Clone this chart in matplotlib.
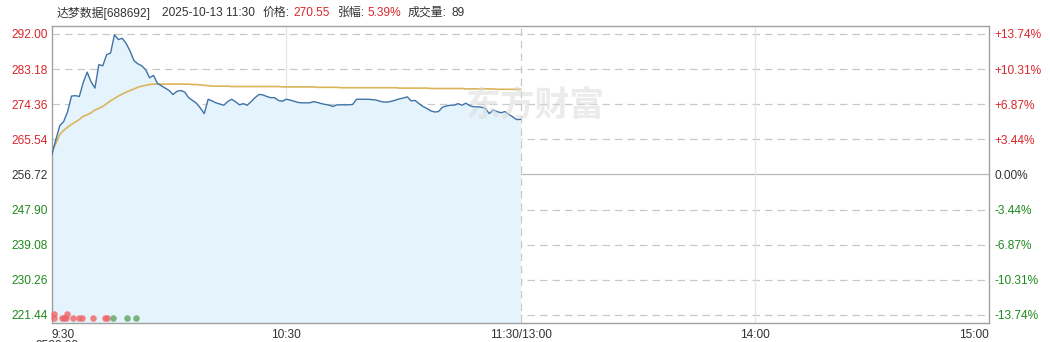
import numpy as np
import matplotlib
matplotlib.use('Agg')
import matplotlib.pyplot as plt

plt.rcParams['font.family'] = ['Liberation Sans', 'Noto Sans CJK SC', 'DejaVu Sans']

# 数据：9:30 起每分钟的价格和均价
price = [261.8, 265.5, 269.0, 270.0, 272.5, 276.4, 276.5, 276.3, 279.8, 282.4,
         280.0, 278.4, 284.3, 284.0, 286.8, 287.2, 291.8, 290.6, 290.9, 289.6,
         287.7, 285.3, 284.5, 284.0, 283.0, 281.0, 281.6, 279.6, 279.0, 278.4,
         277.8, 276.8, 277.6, 277.8, 277.4, 276.0, 275.3, 274.6, 273.4, 272.0,
         275.6, 275.2, 274.7, 274.4, 274.1, 275.0, 275.6, 275.0, 274.2, 274.5,
         274.1, 275.0, 276.0, 276.8, 276.7, 276.3, 276.0, 276.0, 275.3, 275.1,
         275.6, 275.4, 275.1, 274.8, 274.7, 274.7, 274.7, 275.0, 274.8, 274.5,
         274.3, 274.1, 273.8, 274.2, 274.2, 274.2, 274.2, 274.3, 275.6, 275.6,
         275.6, 275.6, 275.5, 275.4, 275.1, 274.9, 274.9, 275.1, 275.4, 275.7,
         275.9, 276.2, 275.2, 275.3, 274.5, 273.8, 273.3, 272.7, 272.4, 272.5,
         273.6, 273.9, 274.1, 274.1, 274.5, 274.1, 274.6, 274.0, 273.7, 273.7,
         273.6, 273.3, 272.0, 272.9, 272.5, 272.2, 272.5, 271.8, 271.2, 270.5,
         270.55]
avg = [262.6, 264.5, 266.8, 267.8, 268.6, 269.3, 269.9, 270.5, 271.3, 271.7,
       272.2, 272.9, 273.3, 273.8, 274.5, 275.2, 275.8, 276.4, 276.9, 277.4,
       277.8, 278.2, 278.6, 278.9, 279.1, 279.3, 279.4, 279.4, 279.4, 279.4,
       279.4, 279.4, 279.4, 279.4, 279.4, 279.4, 279.3, 279.3, 279.2, 279.1,
       279.0, 278.9, 278.9, 278.9, 278.9, 278.9, 278.8, 278.8, 278.8, 278.8,
       278.8, 278.8, 278.8, 278.8, 278.8, 278.8, 278.8, 278.8, 278.8, 278.7,
       278.7, 278.7, 278.7, 278.7, 278.7, 278.7, 278.7, 278.7, 278.6, 278.6,
       278.6, 278.6, 278.6, 278.6, 278.5, 278.5, 278.5, 278.5, 278.5, 278.5,
       278.5, 278.5, 278.5, 278.5, 278.5, 278.5, 278.5, 278.5, 278.5, 278.4,
       278.4, 278.4, 278.4, 278.4, 278.4, 278.4, 278.4, 278.3, 278.3, 278.3,
       278.3, 278.3, 278.3, 278.3, 278.3, 278.3, 278.2, 278.2, 278.2, 278.2,
       278.2, 278.2, 278.2, 278.2, 278.1, 278.1, 278.1, 278.1, 278.1, 278.1,
       278.1]

# 底部的成交点（分钟, 价位）
red_min = [0.5, 0.5, 2.5, 3.1, 3.8, 3.6, 5.3, 7.0, 7.6, 10.4, 13.5, 14.1]
red_y = [221.7, 220.6, 220.6, 220.6, 221.7, 220.6, 220.6, 220.6, 220.6, 220.6, 220.6, 220.6]
green_min = [15.5, 19.2, 21.5]
green_y = [220.6, 220.6, 220.6]

pre_close = 256.72
price_ticks = [292.00, 283.18, 274.36, 265.54, 256.72, 247.90, 239.08, 230.26, 221.44]
pct_labels = ['+13.74%', '+10.31%', '+6.87%', '+3.44%', '0.00%',
              '-3.44%', '-6.87%', '-10.31%', '-13.74%']
time_ticks = [0, 60, 120, 180, 240]
time_labels = ['9:30', '10:30', '11:30/13:00', '14:00', '15:00']

RED = '#d9262b'
GREEN = '#1e8a1e'
DARK = '#333333'

fig = plt.figure(figsize=(10.5, 3.42), dpi=100)
ax = fig.add_axes([52 / 1050, 19 / 342, 937 / 1050, 297 / 342])
ymin, ymax = 219.4, 294.0
ax.set_xlim(0, 240)
ax.set_ylim(ymin, ymax)

# 网格
for p in price_ticks:
    if p == pre_close:
        ax.axhline(p, color='#b8b8b8', lw=0.9, zorder=1)
    else:
        ax.axhline(p, color='#c8c8c8', lw=0.9, ls=(0, (6, 4)), zorder=1)
ax.axvline(60, color='#e6e6e6', lw=0.9, zorder=1)
ax.axvline(180, color='#e6e6e6', lw=0.9, zorder=1)
ax.axvline(120, color='#c8c8c8', lw=0.9, ls=(0, (6, 4)), zorder=1)

minutes = np.arange(len(price))
ax.fill_between(minutes, price, ymin, color='#e4f3fc', lw=0, zorder=2)
ax.plot(minutes, price, color='#3f73a6', lw=1.0, zorder=4)
ax.plot(minutes, avg, color='#dcb45a', lw=1.2, zorder=3)

ax.scatter(red_min, red_y, s=22, color='#f06464', alpha=0.8, lw=0, zorder=5, clip_on=False)
ax.scatter(green_min, green_y, s=22, color='#5ea35e', alpha=0.8, lw=0, zorder=5, clip_on=False)

# 水印
fig.text(535 / 1050, 1 - 105 / 342, '东方财富', fontsize=25, fontweight='bold',
         color='#dcdcdc', alpha=0.55, ha='center', va='center',
         family=['Noto Sans CJK SC'])

for s in ax.spines.values():
    s.set_color('#a0a0a0')
    s.set_linewidth(1.0)

# 左轴
ax.set_yticks(price_ticks)
ax.set_yticklabels(['%.2f' % p for p in price_ticks])
ax.tick_params(axis='y', length=0, pad=3, labelsize=8.6)
for lab, p in zip(ax.get_yticklabels(), price_ticks):
    lab.set_color(RED if p > pre_close else (GREEN if p < pre_close else DARK))

# 右轴
ax2 = ax.twinx()
ax2.set_ylim(ymin, ymax)
ax2.set_yticks(price_ticks)
ax2.set_yticklabels(pct_labels)
ax2.tick_params(axis='y', length=0, pad=4, labelsize=8.6)
for lab, p in zip(ax2.get_yticklabels(), price_ticks):
    lab.set_color(RED if p > pre_close else (GREEN if p < pre_close else DARK))
for s in ax2.spines.values():
    s.set_visible(False)

# 时间轴
ax.set_xticks(time_ticks)
ax.set_xticklabels(time_labels)
ax.tick_params(axis='x', length=0, pad=4, labelsize=8.6, labelcolor=DARK)
xl = ax.get_xticklabels()
xl[0].set_ha('left')
xl[-1].set_ha('right')

# 顶部信息
top_y = 1 - 13 / 342
hdr = [(57, '达梦数据[688692]', DARK), (162, '2025-10-13 11:30', DARK),
       (263, '价格:', DARK), (293, '270.55', RED), (338, '张幅:', DARK),
       (367, '5.39%', RED), (408, '成交量:', DARK), (452, '89', DARK)]
for x, t, c in hdr:
    fig.text(x / 1050, top_y, t, color=c, fontsize=8.6, va='center', ha='left')

fig.text(35 / 1050, 1 - 340 / 342, '2500.00', color=DARK, fontsize=8.6, va='top', ha='left')

fig.savefig('out.png', dpi=100)
